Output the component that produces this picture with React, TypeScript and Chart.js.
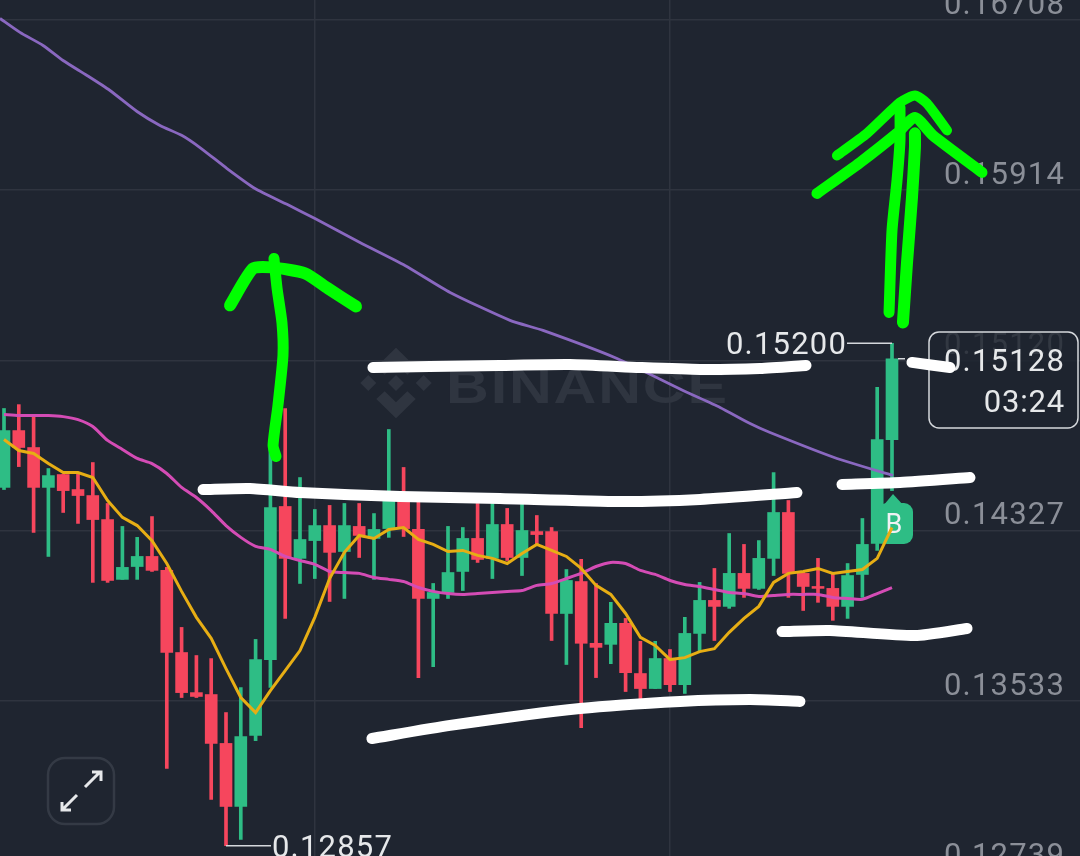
import React, { useEffect, useRef } from "react";
import { Chart, registerables } from "chart.js";

Chart.register(...registerables);

const opens = [0.14528,0.14793,0.14714,0.14528,0.14588,0.14518,0.14490,0.14378,0.14099,0.14159,0.14206,0.14141,0.13758,0.13571,0.13562,0.13334,0.13040,0.13371,0.13725,0.14439,0.14197,0.14280,0.14350,0.14229,0.14346,0.14290,0.14336,0.14467,0.14332,0.14010,0.14038,0.14136,0.14290,0.14197,0.14355,0.14201,0.14322,0.14322,0.13940,0.14089,0.13801,0.13796,0.13894,0.13660,0.13590,0.13730,0.13608,0.13847,0.14001,0.13973,0.14127,0.14057,0.14197,0.14411,0.14127,0.14066,0.14057,0.13973,0.14122,0.14267,0.14751];
const closes = [0.14793,0.14714,0.14528,0.14583,0.14513,0.14490,0.14378,0.14094,0.14155,0.14206,0.14141,0.13758,0.13571,0.13553,0.13334,0.13040,0.13366,0.13725,0.14434,0.14197,0.14285,0.14350,0.14225,0.14350,0.14304,0.14332,0.14467,0.14336,0.14010,0.14038,0.14131,0.14290,0.14192,0.14355,0.14201,0.14327,0.14308,0.13940,0.14094,0.13801,0.13782,0.13894,0.13664,0.13590,0.13730,0.13608,0.13847,0.14001,0.13973,0.14127,0.14057,0.14197,0.14411,0.14127,0.14066,0.14057,0.13973,0.14117,0.14262,0.14751,0.15128];
const highs = [0.14896,0.14914,0.14863,0.14616,0.14588,0.14593,0.14644,0.14453,0.14346,0.14295,0.14392,0.14155,0.13875,0.13744,0.13730,0.13478,0.13595,0.13819,0.14714,0.14896,0.14574,0.14425,0.14444,0.14453,0.14453,0.14406,0.14798,0.14621,0.14458,0.14080,0.14346,0.14341,0.14453,0.14453,0.14430,0.14453,0.14397,0.14341,0.14145,0.14192,0.14080,0.13992,0.13917,0.13810,0.13810,0.13772,0.13922,0.14085,0.14150,0.14313,0.14262,0.14280,0.14597,0.14467,0.14131,0.14197,0.14127,0.14173,0.14383,0.14995,0.15200];
const lows = [0.14518,0.14625,0.14318,0.14206,0.14411,0.14360,0.14085,0.14085,0.14099,0.14099,0.14136,0.13217,0.13548,0.13548,0.13073,0.12857,0.12886,0.13347,0.13595,0.13917,0.14080,0.14103,0.13996,0.14010,0.14201,0.14099,0.14295,0.14299,0.13641,0.13692,0.14010,0.14047,0.14178,0.14103,0.14187,0.14117,0.14257,0.13814,0.13702,0.13408,0.13641,0.13706,0.13576,0.13539,0.13590,0.13576,0.13567,0.13762,0.13814,0.13964,0.14015,0.14052,0.14117,0.14015,0.13954,0.13992,0.13908,0.13917,0.14015,0.14234,0.14513];

const maFast = [0.14751,0.14700,0.14686,0.14639,0.14597,0.14597,0.14574,0.14467,0.14388,0.14350,0.14280,0.14173,0.14043,0.13922,0.13824,0.13683,0.13548,0.13478,0.13580,0.13674,0.13767,0.13922,0.14103,0.14225,0.14304,0.14290,0.14332,0.14341,0.14285,0.14262,0.14229,0.14234,0.14211,0.14197,0.14173,0.14220,0.14262,0.14234,0.14206,0.14150,0.14071,0.14029,0.13940,0.13829,0.13791,0.13725,0.13734,0.13762,0.13776,0.13852,0.13917,0.13973,0.14085,0.14127,0.14136,0.14150,0.14127,0.14136,0.14145,0.14197,0.14341];
const maMid = [0.14868,0.14863,0.14863,0.14863,0.14858,0.14844,0.14812,0.14747,0.14705,0.14663,0.14639,0.14593,0.14528,0.14481,0.14420,0.14350,0.14295,0.14253,0.14239,0.14206,0.14187,0.14169,0.14136,0.14131,0.14127,0.14108,0.14099,0.14089,0.14061,0.14043,0.14033,0.14029,0.14033,0.14038,0.14043,0.14047,0.14071,0.14080,0.14103,0.14127,0.14159,0.14178,0.14173,0.14141,0.14122,0.14094,0.14075,0.14066,0.14052,0.14038,0.14033,0.14019,0.14024,0.14029,0.14029,0.14029,0.14015,0.14010,0.14006,0.14033,0.14061];
const maSlowIdx = [-0.27,1.08,2.64,3.99,5.61,7.16,8.99,10.54,12.03,13.24,15.07,16.96,19.12,21.01,24.05,27.09,30.14,34.19,36.42,41.42,45.88,48.38,50.41,51.76,56.28,60.07];
const maSlow = [0.16715,0.16650,0.16589,0.16519,0.16449,0.16379,0.16281,0.16216,0.16169,0.16113,0.16015,0.15922,0.15848,0.15782,0.15670,0.15563,0.15437,0.15307,0.15260,0.15129,0.14980,0.14901,0.14826,0.14784,0.14663,0.14584];

const yTicks = [0.16708,0.15914,0.1512,0.14327,0.13533,0.12739];
const xGrid = [21,45];

const whiteA = { x:[24.93,28.78,33.51,38.24,42.97,47.03,51.08,54.19], y:[0.15087,0.15092,0.15097,0.15101,0.15087,0.15078,0.15083,0.15097] };
const whiteB = { x:[13.45,16.62,20,26.76,33.51,41.62,47.03,53.58], y:[0.14518,0.14523,0.14504,0.14486,0.14476,0.14462,0.14472,0.14504] };
const whiteC = { x:[56.62,60.54,65.27], y:[0.14542,0.14551,0.14574] };
const whiteD = { x:[52.57,55.81,61.55,65.07], y:[0.13856,0.13861,0.13837,0.13870] };
const whiteE = { x:[24.86,30.14,38.92,45.68,50.41,53.78], y:[0.13357,0.13418,0.13497,0.13530,0.13539,0.13530] };
const whiteF = { x:[61.35,63.92], y:[0.15111,0.15087] };
const greenA = { x:[18.38,18.18,18.51,18.85,18.78,18.45,18.24], y:[0.14672,0.14724,0.14910,0.15143,0.15297,0.15456,0.15596] };
const greenB = { x:[15.27,16.82,18.11,20.34,21.89,23.78], y:[0.15377,0.15549,0.15554,0.15526,0.15456,0.15372] };
const greenC = { x:[59.8,60,60.34,60.54,60.54], y:[0.15344,0.15726,0.15960,0.16146,0.16300] };
const greenD = { x:[60.74,61.01,61.35,61.55,61.55], y:[0.15297,0.15572,0.15880,0.16113,0.16179] };
const greenE = { x:[54.93,57.84,60.34,61.55,62.77,66.08], y:[0.15899,0.16043,0.16179,0.16253,0.16169,0.15997] };
const greenF = { x:[56.28,58.31,60.54,61.55,62.36,63.72], y:[0.16076,0.16179,0.16323,0.16356,0.16319,0.16193] };

const FONT = "Roboto, sans-serif";
const UP = "#2ebd85";
const DOWN = "#f6465d";
const BG = "#1f2530";
const GRID = "#2f343f";
const IDX_MIN = -0.27027;
const IDX_MAX = 72.7027;
const Y_MIN = 0.12809;
const Y_MAX = 0.16801;

const toPts = (s: { x: number[]; y: number[] }) => s.x.map((x, i) => ({ x, y: s.y[i] }));
const stroke = (s: { x: number[]; y: number[] }, color: string, width: number) => ({
  type: "line" as const,
  data: toPts(s),
  borderColor: color,
  borderWidth: width,
  borderCapStyle: "round" as const,
  borderJoinStyle: "round" as const,
  pointRadius: 0,
  tension: 0.2,
  order: 1,
});

const poly = (ctx: CanvasRenderingContext2D, pts: number[][]) => {
  ctx.beginPath();
  pts.forEach((p, i) => (i ? ctx.lineTo(p[0], p[1]) : ctx.moveTo(p[0], p[1])));
  ctx.closePath();
  ctx.fill();
};

const label = (ctx: any, text: string, x: number, y: number, align: CanvasTextAlign, spacing: number) => {
  ctx.letterSpacing = `${spacing}px`;
  ctx.textAlign = align;
  ctx.textBaseline = "middle";
  ctx.fillText(text, x, y);
  ctx.letterSpacing = "0px";
};

const backdrop = {
  id: "backdrop",
  beforeDraw(chart: any) {
    const { ctx, width, height } = chart;
    ctx.save();
    ctx.fillStyle = BG;
    ctx.fillRect(0, 0, width, height);
    ctx.restore();
  },
  beforeDatasetsDraw(chart: any) {
    const { ctx, scales } = chart;
    ctx.save();
    // axis labels
    ctx.fillStyle = "#8b8f98";
    ctx.font = `31px ${FONT}`;
    yTicks.forEach((t) => label(ctx, t.toFixed(5), 1065, scales.y.getPixelForValue(t) - 14, "right", 1.2));
    // watermark
    ctx.fillStyle = "#2f3540";
    const cx = 396, cy = 383, k = 1 / 3;
    const rel = (pts: number[][]) => pts.map((p) => [cx + p[0] * k, cy + p[1] * k]);
    poly(ctx, rel([[0,-106],[59,-48],[34,-25],[0,-58],[-34,-25],[-59,-48]]));
    poly(ctx, rel([[0,106],[59,48],[34,25],[0,58],[-34,25],[-59,48]]));
    poly(ctx, rel([[0,-24],[24,0],[0,24],[-24,0]]));
    poly(ctx, rel([[-83,-24],[-59,0],[-83,24],[-107,0]]));
    poly(ctx, rel([[83,-24],[107,0],[83,24],[59,0]]));
    ctx.save();
    ctx.translate(446, 403);
    ctx.scale(1.21, 1);
    ctx.font = "bold 49px 'Liberation Sans', sans-serif";
    (ctx as any).letterSpacing = "1.5px";
    ctx.textAlign = "left";
    ctx.textBaseline = "alphabetic";
    ctx.fillText("BINANCE", 0, 0);
    ctx.restore();
    // price tag
    ctx.beginPath();
    ctx.roundRect(929, 332, 149, 96, 10);
    ctx.fillStyle = "rgba(31,37,48,0.82)";
    ctx.fill();
    ctx.strokeStyle = "#d5d8dc";
    ctx.lineWidth = 1.5;
    ctx.stroke();
    ctx.fillStyle = "#e6e8ea";
    ctx.font = `31px ${FONT}`;
    label(ctx, "0.15128", 1065, 363, "right", 1.2);
    label(ctx, "03:24", 1065, 404, "right", 0.8);
    ctx.restore();
  },
  beforeDatasetDraw(chart: any, args: any) {
    if (chart.data.datasets[args.index].label !== "MA7") return;
    const { ctx } = chart;
    const px = chart.scales.x.getPixelForValue(60);
    ctx.save();
    ctx.fillStyle = UP;
    ctx.beginPath();
    ctx.roundRect(px - 14, 503, 35, 41, 9);
    ctx.fill();
    ctx.beginPath();
    ctx.moveTo(px - 9, 506);
    ctx.lineTo(px + 1, 494);
    ctx.lineTo(px + 12, 506);
    ctx.closePath();
    ctx.fill();
    ctx.fillStyle = "#f0f2f4";
    ctx.font = `27px ${FONT}`;
    ctx.textAlign = "center";
    ctx.textBaseline = "middle";
    ctx.fillText("B", px + 2, 526);
    ctx.restore();
  },
  afterDatasetsDraw(chart: any) {
    const { ctx, scales } = chart;
    const hiX = scales.x.getPixelForValue(60);
    const hiY = scales.y.getPixelForValue(0.152);
    const loX = scales.x.getPixelForValue(15);
    const loY = scales.y.getPixelForValue(0.12857);
    const lastY = scales.y.getPixelForValue(0.15128);
    ctx.save();
    ctx.strokeStyle = "#d5d8dc";
    ctx.lineWidth = 1.5;
    ctx.beginPath();
    ctx.moveTo(847, hiY);
    ctx.lineTo(hiX, hiY);
    ctx.moveTo(loX, loY);
    ctx.lineTo(271, loY);
    ctx.moveTo(898, lastY);
    ctx.lineTo(905, lastY);
    ctx.stroke();
    ctx.fillStyle = "#e6e8ea";
    ctx.font = `31px ${FONT}`;
    label(ctx, "0.15200", 847, hiY + 3, "right", 1.2);
    label(ctx, "0.12857", 272, loY + 4, "left", 1.2);
    // expand icon
    ctx.beginPath();
    ctx.roundRect(48, 758, 66, 66, 17);
    ctx.strokeStyle = "#343a45";
    ctx.lineWidth = 2.5;
    ctx.stroke();
    ctx.strokeStyle = "#e6e8ea";
    ctx.lineWidth = 3;
    ctx.beginPath();
    ctx.moveTo(85, 787);
    ctx.lineTo(100, 772);
    ctx.moveTo(92, 772);
    ctx.lineTo(101, 772);
    ctx.lineTo(101, 781);
    ctx.moveTo(77, 795);
    ctx.lineTo(62, 810);
    ctx.moveTo(62, 802);
    ctx.lineTo(62, 810);
    ctx.lineTo(71, 810);
    ctx.stroke();
    ctx.restore();
  },
};

export default function App() {
  const ref = useRef<HTMLCanvasElement | null>(null);
  useEffect(() => {
    document.body.style.background = BG;
    const colors = opens.map((o, i) => (closes[i] >= o ? UP : DOWN));
    const idx = opens.map((_, i) => i);
    const chart = new Chart(ref.current!, {
      type: "bar",
      data: {
        datasets: [
          { type: "line", label: "MA99", data: maSlowIdx.map((x, i) => ({ x, y: maSlow[i] })), borderColor: "#8a68c0", borderWidth: 2.8, pointRadius: 0, tension: 0.2, order: 3 },
          { type: "line", label: "MA25", data: idx.map((x) => ({ x, y: maMid[x] })), borderColor: "#d44cb5", borderWidth: 3, pointRadius: 0, tension: 0.2, order: 3 },
          { type: "line", label: "MA7", data: idx.map((x) => ({ x, y: maFast[x] })), borderColor: "#e7ae14", borderWidth: 3, pointRadius: 0, tension: 0, order: 2 },
          stroke(whiteA, "#ffffff", 11),
          stroke(whiteB, "#ffffff", 11),
          stroke(whiteC, "#ffffff", 11),
          stroke(whiteD, "#ffffff", 11),
          stroke(whiteE, "#ffffff", 11),
          stroke(whiteF, "#ffffff", 11),
          stroke(greenA, "#00ff00", 11),
          stroke(greenB, "#00ff00", 12),
          stroke(greenC, "#00ff00", 11),
          stroke(greenD, "#00ff00", 12),
          stroke(greenE, "#00ff00", 11),
          stroke(greenF, "#00ff00", 10),
          { type: "bar", label: "bodies", data: idx.map((x) => ({ x, y: [opens[x], closes[x]] })), backgroundColor: colors, barThickness: 12, grouped: false, order: 5, borderSkipped: false },
          { type: "bar", label: "wicks", data: idx.map((x) => ({ x, y: [lows[x], highs[x]] })), backgroundColor: colors, barThickness: 3, grouped: false, order: 6, borderSkipped: false },
        ] as any,
      },
      plugins: [backdrop],
      options: {
        responsive: false,
        animation: false,
        devicePixelRatio: 1,
        layout: { padding: 0 },
        plugins: { legend: { display: false }, tooltip: { enabled: false }, title: { display: false } },
        scales: {
          x: {
            type: "linear",
            min: IDX_MIN,
            max: IDX_MAX,
            offset: false,
            border: { display: false },
            grid: { color: GRID, lineWidth: 1.5, drawTicks: false, offset: false },
            ticks: { display: false },
            afterBuildTicks: (s: any) => { s.ticks = xGrid.map((value) => ({ value })); },
          },
          y: {
            type: "linear",
            position: "right",
            min: Y_MIN,
            max: Y_MAX,
            border: { display: false },
            grid: { color: GRID, lineWidth: 1.5, drawTicks: false },
            ticks: { display: false },
            afterBuildTicks: (s: any) => { s.ticks = yTicks.map((value) => ({ value })); },
          },
        },
      } as any,
    });
    return () => chart.destroy();
  }, []);
  return (
    <canvas
      ref={ref}
      width={1080}
      height={856}
      style={{ position: "fixed", left: 0, top: 0, width: 1080, height: 856, display: "block" }}
    />
  );
}
